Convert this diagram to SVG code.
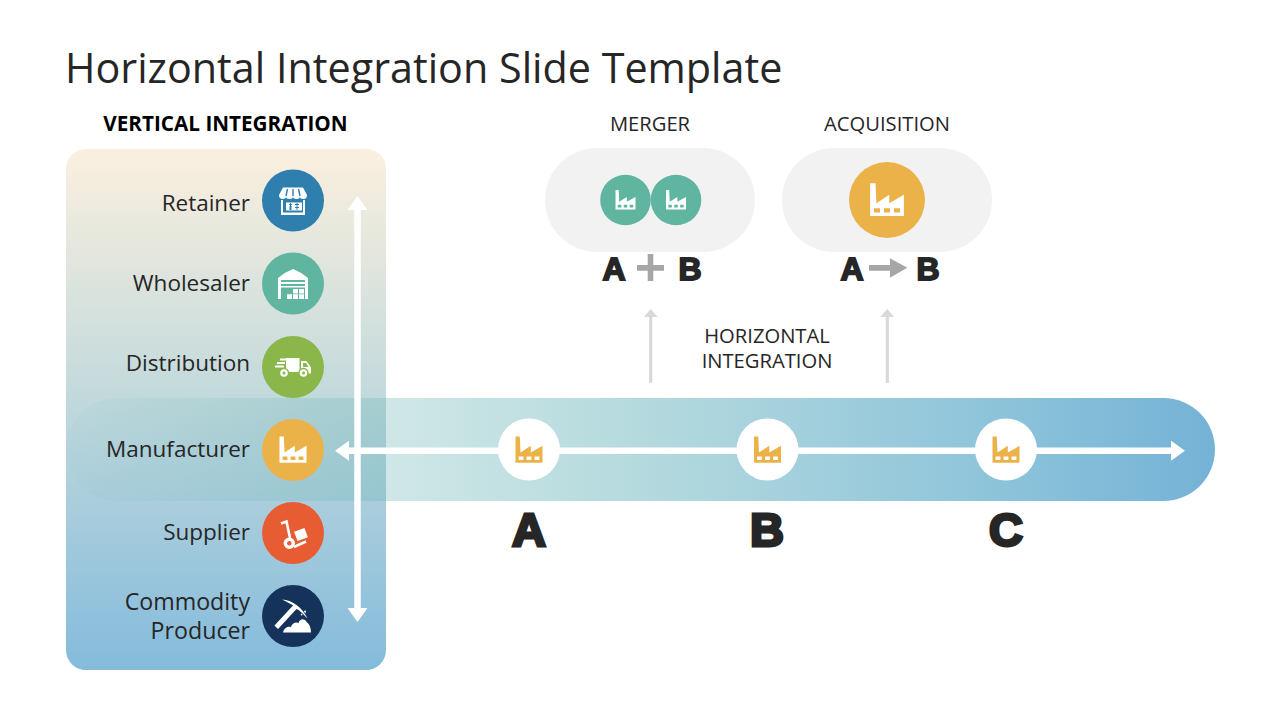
<svg xmlns="http://www.w3.org/2000/svg" width="1280" height="720" viewBox="0 0 1280 720">
<defs>
<linearGradient id="vert" x1="0" y1="0" x2="0" y2="1"><stop offset="0" stop-color="#fbf0df"/><stop offset="0.5" stop-color="#bfd8dc"/><stop offset="1" stop-color="#84bbdc"/></linearGradient>
<linearGradient id="bandL" gradientUnits="userSpaceOnUse" x1="66" y1="0" x2="386" y2="0"><stop offset="0" stop-color="#6db5b5" stop-opacity="0.04"/><stop offset="1" stop-color="#6db5b5" stop-opacity="0.33"/></linearGradient>
<linearGradient id="bandR" gradientUnits="userSpaceOnUse" x1="386" y1="0" x2="1215" y2="0"><stop offset="0" stop-color="#cfe7e6"/><stop offset="0.3" stop-color="#b5dade"/><stop offset="0.75" stop-color="#8cc3da"/><stop offset="1" stop-color="#74b2d6"/></linearGradient>
<path id="f" d="M-13.500 12.800V-13.500H-9.200L-8.500 2.500L1.800 -4.200V2.500L13.500 -4.200V12.800Z M-10.400 6.500V10H-5.600V6.500Z M-2.400 6.500V10H2.400V6.500Z M5.600 6.500V10H10.400V6.500Z" fill-rule="evenodd"/>
<marker id="ah" viewBox="0 0 14 20" refX="1" refY="10" markerWidth="14" markerHeight="20" markerUnits="userSpaceOnUse" orient="auto-start-reverse"><path d="M0 0L14 10L0 20Z" fill="#fff"/></marker>
<marker id="ag" viewBox="0 0 8 14" refX="1" refY="7" markerWidth="8" markerHeight="14" markerUnits="userSpaceOnUse" orient="auto"><path d="M0 0L8 7L0 14Z" fill="#d9d9d9"/></marker>
</defs>
<style>
text{font-family:"Open Sans","Noto Sans","Liberation Sans",sans-serif;fill:#262626}
.lab{font-size:22.500px;text-anchor:end}
.head{font-size:20.200px;text-anchor:middle}
.big{font-family:"Liberation Sans",sans-serif;font-weight:900;text-anchor:middle;stroke:#262626}
.sm{font-size:32px;stroke-width:1.800px}
.lg{font-size:47px;stroke-width:3px}
.w{fill:#fff}
</style>
<rect width="1280" height="720" fill="#fff"/>
<text x="65" y="83" font-size="41.300">Horizontal Integration Slide Template</text>
<text x="225.500" y="131" font-size="20.700" font-weight="700" text-anchor="middle" style="fill:#000">VERTICAL INTEGRATION</text>
<text class="head" x="650" y="131">MERGER</text>
<text class="head" x="887" y="131">ACQUISITION</text>

<g id="vertical-panel"><rect x="66" y="149" width="320" height="521" rx="20" fill="url(#vert)"/></g>
<g id="horizontal-band"><path d="M386 398H117.500A51.500 51.500 0 0 0 117.500 501H386Z" fill="url(#bandL)"/><path d="M386 398H1163.500A51.500 51.500 0 0 1 1163.500 501H386Z" fill="url(#bandR)"/></g>

<g id="merger"><rect x="545" y="148" width="210" height="104" rx="52" fill="#f2f2f2"/>
<circle cx="625.500" cy="200" r="25.300" fill="#5fb5a0"/><circle cx="676" cy="200" r="25.300" fill="#5fb5a0"/>
<use href="#f" transform="translate(625.500 200) scale(.74)" class="w"/><use href="#f" transform="translate(676 200) scale(.74)" class="w"/>
<text class="big sm" x="614" y="279.500">A</text><text class="big sm" x="690" y="279.500">B</text>
<path d="M647.700 254H653.300V265H664V270.700H653.300V281H647.700V270.700H637V265H647.700Z" fill="#a6a6a6"/></g>

<g id="acquisition"><rect x="782" y="148" width="210" height="104" rx="52" fill="#f2f2f2"/>
<circle cx="887" cy="200" r="38" fill="#ecb24a"/>
<use href="#f" transform="translate(887 200) scale(1.250)" class="w"/>
<text class="big sm" x="852" y="279.500">A</text><text class="big sm" x="928" y="279.500">B</text>
<path d="M869 265H890V258.300L907.300 267.800L890 277.700V270.700H869Z" fill="#a6a6a6"/></g>

<g id="connectors">
<path d="M650.700 383V316" stroke="#d9d9d9" stroke-width="3.200" fill="none" marker-end="url(#ag)"/>
<path d="M887.300 383V316" stroke="#d9d9d9" stroke-width="3.200" fill="none" marker-end="url(#ag)"/>
<path d="M357.500 209V609" stroke="#fff" stroke-width="6.500" fill="none" marker-start="url(#ah)" marker-end="url(#ah)"/>
<path d="M348 450.700H1172" stroke="#fff" stroke-width="6.500" fill="none" marker-start="url(#ah)" marker-end="url(#ah)"/>
</g>
<text class="head"><tspan x="767" y="343">HORIZONTAL</tspan><tspan x="767" y="368">INTEGRATION</tspan></text>

<g id="retainer"><text class="lab" x="250" y="211">Retainer</text><circle cx="293" cy="200.500" r="31" fill="#2e7fae"/>
<path class="w" d="M283 187.500H303L307 195Q307 199 303.500 199Q300 199 300 196.500Q300 199 296.500 199Q293 199 293 196.500Q293 199 289.500 199Q286 199 286 196.500Q286 199 282.500 199Q279 199 279 195Z"/>
<path d="M287.500 189L286 196M293 189V196M298.500 189L300 196" stroke="#2e7fae" stroke-width="1.400" fill="none"/>
<path class="w" d="M281 200H283V212.500H303V200H305V215H281Z"/>
<rect class="w" x="286" y="202.500" width="16" height="8"/>
<path d="M289 204.500H292M289 207H292M289 209H292M295 204.500H299M295 207.500H299M297 203V210M290.500 203V210" stroke="#2e7fae" stroke-width="1" fill="none"/></g>

<g id="wholesaler"><text class="lab" x="250" y="291">Wholesaler</text><circle cx="293" cy="283.500" r="31" fill="#5fb5a0"/>
<path class="w" d="M278 278Q285 272 293 269Q301 272 308 278V299H305V280H281V299H278Z M281 282H305V284H281Z M281 286H305V287.500H281Z"/>
<path class="w" d="M287 294.200H292V299H287Z M293 294.200H298V299H293Z M299 294.200H304V299H299Z M293 289H298V293.400H293Z M299 289H304V293.400H299Z"/></g>

<g id="distribution"><text class="lab" x="250" y="371">Distribution</text><circle cx="293" cy="367" r="31" fill="#8ab64a"/>
<path class="w" d="M280 358.500H287V360.500H280Z M277 362H285V364H277Z M275 365.500H284V367.500H275Z"/>
<path class="w" d="M286 358H299.500V372H282.500L284.500 369H286Z M301 361H306.500L311 367.500V373.500H301Z"/>
<circle cx="284" cy="373" r="5.200" fill="#8ab64a"/><circle cx="303.500" cy="373" r="5.200" fill="#8ab64a"/>
<circle cx="284" cy="373" r="3.800" class="w"/><circle cx="303.500" cy="373" r="3.800" class="w"/>
<circle cx="284" cy="373" r="1.500" fill="#8ab64a"/><circle cx="303.500" cy="373" r="1.500" fill="#8ab64a"/>
<path d="M303 363H306L308.500 367H303Z" fill="#8ab64a"/></g>

<g id="manufacturer"><text class="lab" x="250" y="457">Manufacturer</text><circle cx="293" cy="450" r="31" fill="#ecb24a"/>
<use href="#f" transform="translate(293 450)" class="w"/></g>

<g id="supplier"><text class="lab" x="250" y="540">Supplier</text><circle cx="293" cy="533" r="31" fill="#e85c33"/>
<path d="M281 523.500L286.500 521.500L290 538" stroke="#fff" stroke-width="2.600" fill="none"/>
<circle cx="289.300" cy="543.300" r="4" fill="none" stroke="#fff" stroke-width="3.400"/>
<rect class="w" x="295.500" y="529.500" width="11" height="10" transform="rotate(-20 301 534.500)"/>
<path d="M294 547L306 541.500" stroke="#fff" stroke-width="2.600" fill="none"/></g>

<g id="commodity"><text class="lab" x="250" y="610" style="font-size:23.200px">Commodity</text><text class="lab" x="250" y="639" style="font-size:23.200px">Producer</text><circle cx="293" cy="616" r="31" fill="#15335a"/>
<path class="w" d="M282 599.500C292 600 302 607 307.500 618.500C302 612.500 299 610 296.500 609L278 629L274.500 625.500L293 605.500C291 604 287 602 282 599.500Z"/>
<path class="w" d="M283 632.500C284 628 288 626 291 627C292 623 296 621.500 298.500 623C300 618 305 618.500 306.500 622C309.500 624 311 628 311 632.500Z"/>
<path class="w" d="M303.500 611L306 610.500L305.500 613.500Z M300.500 614L302.500 613.500L302 616Z"/></g>

<g id="node-a"><circle cx="529" cy="449.500" r="31" fill="#fff"/><use href="#f" transform="translate(529 450)" fill="#ecb24a"/><text class="big lg" x="529" y="545.500">A</text></g>
<g id="node-b"><circle cx="767.500" cy="449.500" r="31" fill="#fff"/><use href="#f" transform="translate(767.500 450)" fill="#ecb24a"/><text class="big lg" x="767" y="545.500">B</text></g>
<g id="node-c"><circle cx="1006" cy="449.500" r="31" fill="#fff"/><use href="#f" transform="translate(1006 450)" fill="#ecb24a"/><text class="big lg" x="1006" y="545.500">C</text></g>
</svg>
